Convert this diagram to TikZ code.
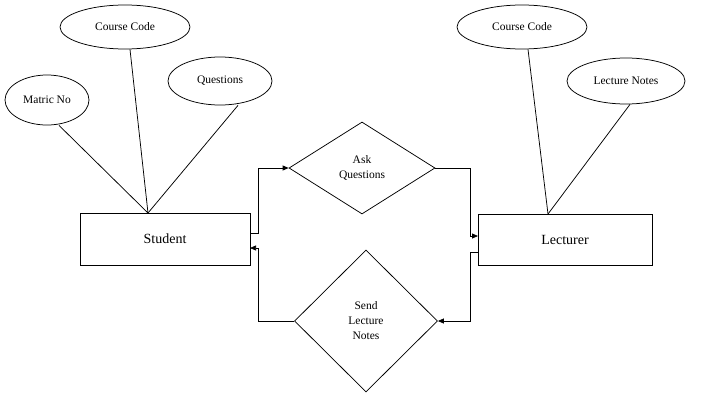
\documentclass[tikz,border=0pt]{standalone}
\usepackage{fontspec}
\setmainfont{Liberation Serif}
\usetikzlibrary{shapes.geometric,arrows.meta}
\tikzset{every picture/.style={line width=0.75pt}}
\tikzset{attr/.style={draw,ellipse,inner sep=0pt,font=\fontsize{11.5}{13}\selectfont},
  ent/.style={draw,rectangle,inner sep=0pt,font=\fontsize{14}{16}\selectfont},
  rel/.style={draw,diamond,inner sep=0pt,align=center,font=\fontsize{11.5}{15}\selectfont},
  flow/.style={-{Triangle[length=6pt,width=5pt]}}}
\begin{document}
\begin{tikzpicture}[x=1pt,y=-1pt]
\useasboundingbox (0,0) rectangle (715,402);

% Entities
\node [ent,minimum width=170pt,minimum height=52pt] (student) at (165,239) {Student};
\node [ent,minimum width=174pt,minimum height=51pt] (lecturer) at (565,240) {Lecturer};

% Attributes
\node [attr,minimum width=130pt,minimum height=44pt] (ccodeL) at (125,27) {Course Code};
\node [attr,minimum width=84pt,minimum height=50pt] (matric) at (47,100) {Matric No};
\node [attr,minimum width=104pt,minimum height=48pt] (quest) at (220,81) {Questions};
\node [attr,minimum width=130pt,minimum height=44pt] (ccodeR) at (522,27) {Course Code};
\node [attr,minimum width=118pt,minimum height=46pt] (notes) at (626,81) {Lecture Notes};

% Relationships
\node [rel,minimum width=146pt,minimum height=92pt] (ask) at (362,168) {Ask\\Questions};
\node [rel,minimum width=143pt,minimum height=142pt] (send) at (366,321) {Send\\Lecture\\Notes};

% Attribute links
\coordinate (stop) at (148,213);
\coordinate (ltop) at (548,214);
\draw (matric.south) ++(12,0) -- (stop);
\draw (ccodeL.south) ++(5,0) -- (stop);
\draw (quest.south) ++(18,0) -- (stop);
\draw (ccodeR.south) ++(6,0) -- (ltop);
\draw (notes.south) ++(4,0) -- (ltop);

% Flows
\draw [flow] (250,233) -- (258,233) |- (ask.west);
\draw [flow] (ask.east) -- (470,168) |- (478,236);
\draw [flow] (478,252) -- (470,252) |- (send.east);
\draw [flow] (send.west) -- (258,321) |- (250,248);

\end{tikzpicture}
\end{document}
